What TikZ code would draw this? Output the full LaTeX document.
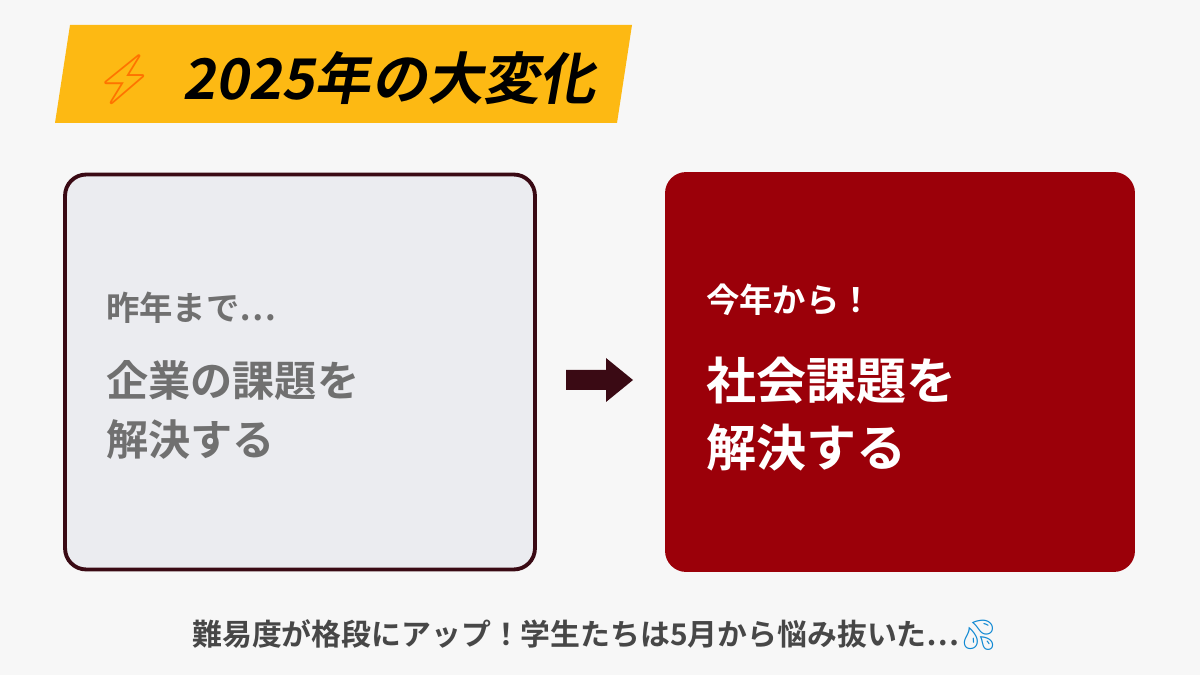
\documentclass[tikz,border=0pt]{standalone}
\usepackage{fontspec}
\setmainfont{Noto Sans CJK JP Bold}
\newfontfamily\titlefont[FakeSlant=0.18]{Noto Sans CJK JP Bold}
\newfontfamily\emojifont{Noto Emoji}
\definecolor{banner}{HTML}{FDB913}
\definecolor{deepred}{HTML}{9B0009}
\definecolor{darkedge}{HTML}{3A0A14}
\definecolor{paleface}{HTML}{EBECF0}
\definecolor{greytext}{HTML}{707070}
\tikzset{
  card/.style={rounded corners=12pt, minimum width=9.4cm, minimum height=7.9cm},
  small/.style={anchor=west, font=\fontsize{19}{22}\selectfont},
  big/.style={anchor=west, align=left},
}
\begin{document}
\begin{tikzpicture}[x=0.02cm,y=-0.02cm]
\useasboundingbox (0,0) rectangle (1200,675);
\fill[black!3] (0,0) rectangle (1200,675);

% banner
\fill[banner] (70,25) -- (632,25) -- (617,123) -- (55,123) -- cycle;
\node (bolt) at (125,80) {\emojifont\fontsize{28}{28}\selectfont\textcolor{orange!90!red}{⚡}};
\node[anchor=west] (title) at (176,78) {\titlefont\fontsize{32}{36}\selectfont 2025年の大変化};

% cards
\node[card, draw=darkedge, line width=2.2pt, fill=paleface] (before) at (300,372) {};
\node[card, fill=deepred, minimum height=8cm] (after) at (900,372) {};

\node[small, text=greytext] (beforehead) at (100,308) {昨年まで…};
\node[big, text=greytext, font=\fontsize{24}{34}\selectfont] (beforebody) at (100,410) {企業の課題を\\解決する};

\node[small, text=white] (afterhead) at (700,300) {今年から！};
\node[big, text=white, font=\fontsize{28.5}{38}\selectfont] (afterbody) at (700,414) {社会課題を\\解決する};

% arrow
\fill[darkedge] (566,370) -- (606,370) -- (606,358) -- (633,380) -- (606,402) -- (606,390) -- (566,390) -- cycle;

% caption
\node[text=black!72, font=\fontsize{17}{20}\selectfont] (caption) at (595,635) {難易度が格段にアップ！学生たちは5月から悩み抜いた…\textcolor{cyan!70!blue}{\emojifont 💦}};
\end{tikzpicture}
\end{document}
